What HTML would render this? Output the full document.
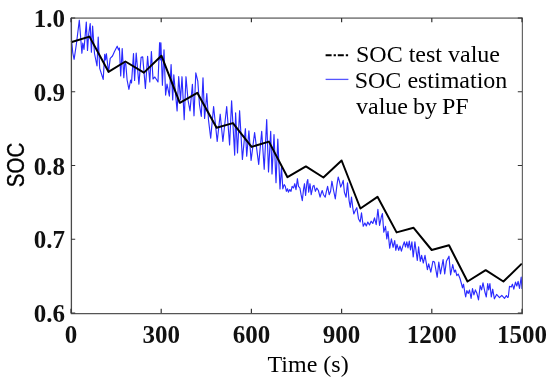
<!DOCTYPE html>
<html><head><meta charset="utf-8"><style>
html,body{margin:0;padding:0;background:#fff;}
svg{display:block;}
.tl{font-family:"Liberation Serif",serif;font-weight:bold;font-size:25px;fill:#111;}
.lb{font-family:"Liberation Serif",serif;font-size:24px;fill:#000;}
.sl{font-family:"Liberation Sans",sans-serif;font-size:23.5px;fill:#000;}
</style></head><body>
<svg width="550" height="386" viewBox="0 0 550 386">
<rect width="550" height="386" fill="#fff"/>
<polyline points="71.30,18.00 71.50,40.00 72.80,53.00 74.10,59.30 76.40,44.00 79.30,20.20 81.90,53.30 82.80,43.00 84.00,49.50 86.30,22.00 87.50,50.50 88.60,35.00 90.20,23.50 91.40,52.20 92.60,26.10 94.50,53.50 97.00,66.00 98.20,37.10 99.70,68.30 103.20,79.40 104.70,54.30 105.50,60.00 106.40,53.70 108.50,72.40 110.20,58.40 112.50,56.00 114.50,51.50 117.20,46.20 118.60,50.00 119.40,48.00 120.70,75.90 122.20,48.50 123.80,77.60 124.80,62.50 125.80,64.00 127.10,80.00 128.90,89.30 130.60,80.00 131.50,83.00 133.50,53.60 134.60,80.40 136.20,53.10 138.90,84.20 141.10,57.40 142.70,56.90 145.40,88.50 147.60,56.40 149.80,82.00 151.40,51.50 153.00,79.00 154.80,77.00 156.50,79.50 158.00,82.00 159.60,42.70 160.30,60.00 160.90,42.70 162.40,85.30 164.00,49.80 165.60,95.10 167.00,84.00 169.40,96.20 171.10,64.50 172.70,100.00 173.80,74.90 177.10,110.90 178.70,76.50 180.50,100.00 182.00,76.70 184.20,119.60 186.00,76.70 188.00,100.00 190.00,110.90 192.40,84.40 194.00,115.80 195.80,72.90 197.80,81.10 199.50,105.00 201.30,116.40 203.00,77.80 204.60,118.50 206.80,93.60 208.50,120.00 210.70,138.20 213.60,106.50 217.20,141.50 220.20,114.20 222.90,141.50 226.70,106.50 229.60,145.00 231.60,100.80 234.70,155.10 235.60,112.90 237.50,152.90 239.60,110.70 242.40,159.40 245.40,128.70 246.70,156.20 248.90,130.90 251.10,160.50 254.60,132.50 258.70,164.40 261.70,131.40 264.20,169.30 266.70,119.60 268.50,172.00 270.70,131.30 272.00,174.00 274.00,134.50 276.00,182.70 277.80,139.00 280.00,189.00 281.50,167.00 282.80,188.80 284.20,184.60 285.30,186.30 286.40,191.30 287.60,188.80 288.40,192.20 289.80,189.60 291.00,191.30 292.10,186.30 293.50,188.00 294.80,183.70 296.00,189.60 297.40,178.70 298.50,186.30 299.90,188.00 301.10,194.70 302.30,200.60 303.60,188.80 304.50,183.70 305.60,195.50 307.00,182.00 307.80,179.50 308.70,192.20 310.00,183.70 311.20,194.70 312.90,186.30 314.00,185.40 315.40,191.30 316.80,188.00 318.40,190.50 320.10,197.20 321.30,193.00 322.20,190.50 323.50,194.70 325.20,197.20 326.40,191.30 327.60,186.30 329.20,194.70 330.60,191.30 331.90,181.20 333.60,190.50 335.30,198.90 337.00,184.60 338.20,177.00 339.40,181.20 340.70,187.10 342.10,183.70 343.20,180.40 344.40,192.20 346.10,197.20 347.50,182.90 349.10,200.60 350.30,207.50 351.50,197.00 352.80,208.00 353.80,214.00 355.50,210.00 356.80,207.70 358.50,218.70 360.20,222.00 361.50,212.80 363.20,226.30 364.90,222.90 366.30,226.00 367.80,222.00 369.50,225.00 371.10,221.20 372.80,223.50 374.50,217.80 376.20,224.60 377.90,209.40 379.60,225.40 381.30,217.00 382.40,213.60 383.80,232.20 385.50,226.30 386.80,238.90 388.00,231.30 389.70,248.20 391.40,238.90 393.10,247.30 394.70,240.60 395.80,250.30 397.00,244.40 398.70,250.30 400.00,246.00 401.40,251.10 403.10,245.20 404.30,241.90 405.50,247.00 406.80,241.90 408.00,248.00 409.30,241.00 410.50,250.00 411.90,241.90 413.20,257.00 414.90,241.90 417.30,260.40 418.60,246.90 420.30,261.30 421.60,255.40 423.30,263.00 425.00,255.40 427.40,269.70 428.70,263.80 430.80,272.20 432.90,261.30 434.50,262.00 437.20,277.30 438.80,262.10 440.50,273.90 443.10,259.60 444.70,273.90 446.40,261.30 449.00,256.20 450.60,275.00 452.70,264.50 454.30,272.10 455.50,270.00 456.80,275.70 458.20,274.00 460.00,278.50 461.40,283.50 462.50,287.80 463.50,284.20 465.00,293.50 465.70,297.00 466.80,290.60 468.20,293.50 469.50,290.00 471.10,298.40 472.50,288.50 473.90,294.90 475.40,289.90 476.80,293.00 478.50,299.90 480.20,285.60 481.60,289.90 483.00,282.80 484.90,292.00 486.30,297.00 487.70,283.50 488.70,289.90 489.90,283.50 491.30,297.00 492.70,289.20 494.40,298.80 496.60,294.40 499.50,297.60 501.80,295.30 504.50,298.40 506.40,295.50 507.60,297.50 508.30,297.00 509.50,286.30 511.30,287.00 512.40,284.20 513.80,289.20 515.50,282.10 516.80,286.00 518.10,281.40 519.50,288.50 521.20,277.10 522.00,289.00" fill="none" stroke="#2a2aff" stroke-width="1.15" stroke-linejoin="round"/>
<polyline points="71.00,42.20 89.50,36.60 108.50,71.80 125.40,61.50 143.90,72.60 161.40,55.70 179.80,102.80 197.30,92.80 216.60,127.80 232.90,123.10 251.60,146.90 268.90,141.60 287.50,177.20 305.90,166.40 323.40,177.50 341.60,160.50 360.40,208.50 377.50,196.80 396.60,232.40 413.60,227.80 431.70,250.00 449.00,245.30 467.50,281.50 485.70,270.20 503.40,281.50 521.80,263.60" fill="none" stroke="#000" stroke-width="2" stroke-linejoin="round"/>
<path d="M71.4,18.2H522.4" stroke="#8a8a8a" stroke-width="1.7" fill="none"/><path d="M522.4,17.6V313.6" stroke="#666" stroke-width="1.2" fill="none"/><path d="M71.4,17.6V313.9" stroke="#4a4a4a" stroke-width="1.3" fill="none"/><path d="M70.8,313.6H523" stroke="#555" stroke-width="1.3" fill="none"/>
<path d="M71.00,313.0v-4.2M71.00,18.0v4.2M161.20,313.0v-4.2M161.20,18.0v4.2M251.40,313.0v-4.2M251.40,18.0v4.2M341.60,313.0v-4.2M341.60,18.0v4.2M431.80,313.0v-4.2M431.80,18.0v4.2M522.00,313.0v-4.2M522.00,18.0v4.2M71.0,313.00h4.2M522.0,313.00h-4.2M71.0,239.25h4.2M522.0,239.25h-4.2M71.0,165.50h4.2M522.0,165.50h-4.2M71.0,91.75h4.2M522.0,91.75h-4.2M71.0,18.00h4.2M522.0,18.00h-4.2" stroke="#333" stroke-width="1.2" fill="none"/>
<g class="tl"><text x="71.00" y="342.8" text-anchor="middle">0</text><text x="161.20" y="342.8" text-anchor="middle">300</text><text x="251.40" y="342.8" text-anchor="middle">600</text><text x="341.60" y="342.8" text-anchor="middle">900</text><text x="431.80" y="342.8" text-anchor="middle">1200</text><text x="522.00" y="342.8" text-anchor="middle">1500</text><text x="65" y="322.00" text-anchor="end">0.6</text><text x="65" y="248.25" text-anchor="end">0.7</text><text x="65" y="174.50" text-anchor="end">0.8</text><text x="65" y="100.75" text-anchor="end">0.9</text><text x="65" y="27.00" text-anchor="end">1.0</text></g>
<text class="lb" x="267.5" y="372">Time (s)</text>
<text class="sl" transform="translate(23.8,165) rotate(-90) scale(0.87,1)" stroke="#000" stroke-width="0.35" text-anchor="middle">SOC</text>
<path d="M325.6,55.3h22.6" stroke="#000" stroke-width="2.1" stroke-dasharray="6,2,2.3,1.9"/>
<path d="M325.6,79.4h22.8" stroke="#5555ff" stroke-width="1.3"/>
<g class="lb"><text x="356" y="61.5">SOC test value</text><text x="354.7" y="87.6">SOC estimation</text><text x="356" y="114.4" word-spacing="-1">value by PF</text></g>
</svg>
</body></html>
